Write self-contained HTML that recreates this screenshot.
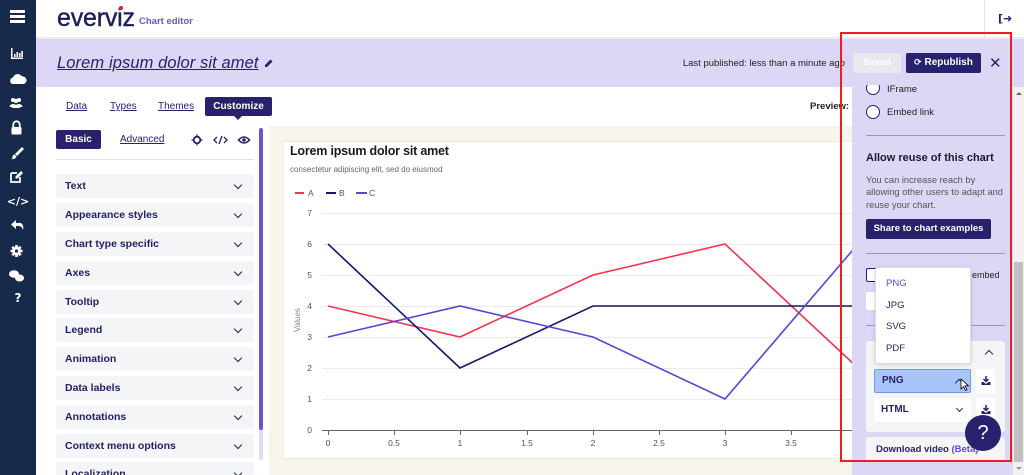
<!DOCTYPE html>
<html><head><meta charset="utf-8">
<style>
*{margin:0;padding:0;box-sizing:border-box}
html,body{width:1024px;height:475px;overflow:hidden}
body{position:relative;background:#fff;font-family:"Liberation Sans",Arial,sans-serif;}
.a{position:absolute}
.nav{left:0;top:0;width:36px;height:475px;background:#182a4b}
.ic{position:absolute;left:0;width:36px;text-align:center;color:#fff;font-size:12px;font-family:"DejaVu Sans",sans-serif;line-height:14px}
.band{left:36px;top:39px;width:988px;height:48px;background:#dcd7f4}
.tab{position:absolute;top:101px;font-size:10px;color:#28216e;text-decoration:underline}
.item{position:absolute;left:56px;width:198px;height:24px;background:#f4f5f6;border-radius:2px;font-size:10.5px;font-weight:bold;color:#221d66;padding-left:9px;line-height:24px}
.item::after{content:"";position:absolute;right:13px;top:8px;width:5px;height:5px;border-right:1.5px solid #221d66;border-bottom:1.5px solid #221d66;transform:rotate(45deg)}
.yl{position:absolute;font-size:8.5px;color:#555;width:12px;text-align:right}
.xl{position:absolute;top:438px;font-size:8.5px;color:#555;width:30px;text-align:center}
</style></head><body>
<div class="a" style="left:0;top:0;width:1024px;height:475px;overflow:hidden">

<!-- left nav -->
<div class="a nav"></div>
<div class="a" style="left:10px;top:10px;width:15px;height:2.5px;background:#fff;box-shadow:0 5px 0 #fff,0 10px 0 #fff"></div>
<svg class="a" style="left:0;top:0" width="36" height="320">
 <g fill="#fff" stroke="none">
  <path d="M11 48 v11 h12 v-1.5 h-10.5 v-9.5z"/><rect x="14" y="54" width="1.6" height="3"/><rect x="16.5" y="52" width="1.6" height="5"/><rect x="19" y="53" width="1.6" height="4"/><rect x="21.3" y="51" width="1.6" height="6"/>
  <path d="M12 84 a3.5 3.5 0 0 1 1-6.5 a5 5 0 0 1 9 -1 a3.8 3.8 0 0 1 1.5 7.5z"/>
  <circle cx="13" cy="100" r="2"/><circle cx="19" cy="100" r="2"/><circle cx="16" cy="101" r="2.2"/><path d="M9.5 107 a3.5 3 0 0 1 7 0z M15.5 107 a3.5 3 0 0 1 7 0z M12 108 a4 3.5 0 0 1 8 0z"/>
  <rect x="11.5" y="127" width="10" height="7.5" rx="1"/><path d="M13.3 127 v-2.5 a3.2 3.2 0 0 1 6.4 0 v2.5" stroke="#fff" stroke-width="1.8" fill="none"/>
  <path d="M22 147 l2 2 l-7 7 l-2 -2z"/><path d="M14.5 154.5 l2 2 q-1 3 -5 2.5 q1.5 -1 1 -2.5 q0.5 -2 2 -2z"/>
  <path d="M11 173 h6 M11 173 v9 h9 v-5" stroke="#fff" stroke-width="1.7" fill="none"/><path d="M21 171 l2 2 l-5.5 5.5 h-2 v-2z"/>
  <path d="M21 223 a6 6 0 0 1 2 7 a5 5 0 0 0 -4 -4 h-3 v3 l-5 -4.5 l5 -4.5 v3 h2 a4 4 0 0 1 3 0z"/>
  <circle cx="16.5" cy="251" r="4.2"/><g stroke="#fff" stroke-width="2.6"><line x1="16.5" y1="245" x2="16.5" y2="257"/><line x1="10.5" y1="251" x2="22.5" y2="251"/><line x1="12.3" y1="246.8" x2="20.7" y2="255.2"/><line x1="20.7" y1="246.8" x2="12.3" y2="255.2"/></g>
  <ellipse cx="14" cy="274" rx="5" ry="3.8"/><ellipse cx="19.5" cy="278" rx="4.5" ry="3.5"/>
 </g>
 <circle cx="16.5" cy="251" r="1.6" fill="#182a4b"/>
</svg>
<div class="ic" style="top:195px;font-weight:bold;font-size:11px">&lt;/&gt;</div>
<div class="ic" style="top:291px;font-weight:bold;font-size:12px">?</div>

<!-- header -->
<div class="a" style="left:57px;top:1px;font-size:25px;color:#1c1f5c;line-height:34px;letter-spacing:-0.2px;-webkit-text-stroke:0.4px #1c1f5c">everviz</div>
<div class="a" style="left:119px;top:6px;width:4px;height:4px;border-radius:50%;background:#d8213f"></div>
<div class="a" style="left:139px;top:16px;font-size:9.5px;font-weight:bold;color:#6554d6">Chart editor</div>
<div class="a" style="left:984px;top:0;width:1px;height:39px;background:#e6e6ec"></div>
<div class="a" style="left:998px;top:12px;font-size:11px;color:#28216e;font-family:'DejaVu Sans',sans-serif;font-weight:bold">[➜</div>
<div class="a" style="left:36px;top:37px;width:988px;height:2px;background:#ecebf2"></div>

<!-- band -->
<div class="a band"></div>
<div class="a" style="left:57px;top:54px;font-size:16.5px;font-style:italic;color:#28216e;text-decoration:underline;letter-spacing:0.1px">Lorem ipsum dolor sit amet</div>
<svg class="a" style="left:263px;top:57px" width="12" height="12"><path d="M2 8 l5.5 -5.5 l2 2 l-5.5 5.5 h-2z" fill="#28216e"/></svg>
<div class="a" style="left:640px;top:58px;width:205px;text-align:right;font-size:9.5px;color:#222">Last published: less than a minute ago</div>

<!-- tabs -->
<div class="tab" style="left:66px">Data</div>
<div class="tab" style="left:110px">Types</div>
<div class="tab" style="left:158px">Themes</div>
<div class="a" style="left:205px;top:97px;width:67px;height:19px;background:#28216e;border-radius:2px;color:#fff;font-size:10px;font-weight:bold;text-align:center;line-height:19px">Customize</div>
<div class="a" style="left:234px;top:116px;width:0;height:0;border-left:4px solid transparent;border-right:4px solid transparent;border-top:4px solid #28216e"></div>
<div class="a" style="left:810px;top:101px;font-size:9.5px;font-weight:bold;color:#222">Preview:</div>

<div class="a" style="left:56px;top:130px;width:45px;height:19px;background:#28216e;border-radius:2px;color:#fff;font-size:10px;font-weight:bold;text-align:center;line-height:19px">Basic</div>
<div class="a" style="left:120px;top:134px;font-size:10px;color:#28216e;text-decoration:underline">Advanced</div>
<svg class="a" style="left:190px;top:133px" width="62" height="14">
 <circle cx="7" cy="7" r="3.3" fill="none" stroke="#28216e" stroke-width="1.8"/><g stroke="#28216e" stroke-width="1.3"><line x1="7" y1="1.5" x2="7" y2="3.5"/><line x1="7" y1="10.5" x2="7" y2="12.5"/><line x1="1.5" y1="7" x2="3.5" y2="7"/><line x1="10.5" y1="7" x2="12.5" y2="7"/></g>
 <path d="M27 4 l-3 3 l3 3 M34 4 l3 3 l-3 3 M32 3 l-3 8" fill="none" stroke="#28216e" stroke-width="1.3"/>
 <path d="M48.5 7 q5.5 -6 11 0 q-5.5 6 -11 0z" fill="none" stroke="#28216e" stroke-width="1.6"/><circle cx="54" cy="7" r="1.8" fill="#28216e"/>
</svg>
<div class="a" style="left:56px;top:159px;width:198px;height:1px;background:#e1e1e6"></div>

<div class="item" style="top:174px">Text</div>
<div class="item" style="top:203px">Appearance styles</div>
<div class="item" style="top:232px">Chart type specific</div>
<div class="item" style="top:261px">Axes</div>
<div class="item" style="top:290px">Tooltip</div>
<div class="item" style="top:318px">Legend</div>
<div class="item" style="top:347px">Animation</div>
<div class="item" style="top:376px">Data labels</div>
<div class="item" style="top:405px">Annotations</div>
<div class="item" style="top:434px">Context menu options</div>
<div class="item" style="top:462px">Localization</div>

<div class="a" style="left:259px;top:128px;width:4px;height:332px;background:#e0dbf6;border-radius:2px"></div>
<div class="a" style="left:259px;top:128px;width:4px;height:302px;background:#6a55cf;border-radius:2px"></div>

<!-- chart area -->
<div class="a" style="left:269px;top:126px;width:600px;height:349px;background:#f8f5ec"></div>
<div class="a" style="left:283px;top:141px;width:590px;height:318px;background:#fff;border:1px solid #ebebeb"></div>
<div class="a" style="left:290px;top:144px;font-size:12.5px;font-weight:bold;color:#1a1a1a;letter-spacing:-0.2px">Lorem ipsum dolor sit amet</div>
<div class="a" style="left:290px;top:165px;font-size:8px;color:#666">consectetur adipiscing elit, sed do eiusmod</div>

<svg class="a" style="left:0;top:0" width="1024" height="475">
 <g stroke-width="2"><line x1="295" y1="193" x2="304" y2="193" stroke="#f5344d"/><line x1="326" y1="193" x2="336" y2="193" stroke="#16166a"/><line x1="356" y1="193" x2="367" y2="193" stroke="#5a44d4"/></g>
 <g font-family="Liberation Sans,Arial,sans-serif" font-size="8.5" fill="#555"><text x="308" y="196">A</text><text x="339" y="196">B</text><text x="369" y="196">C</text></g>
 <g stroke="#ebebeb" stroke-width="1"><line x1="322" y1="213.5" x2="870" y2="213.5"/><line x1="322" y1="244.5" x2="870" y2="244.5"/><line x1="322" y1="275.5" x2="870" y2="275.5"/><line x1="322" y1="306.5" x2="870" y2="306.5"/><line x1="322" y1="337.5" x2="870" y2="337.5"/><line x1="322" y1="368.5" x2="870" y2="368.5"/><line x1="322" y1="399.5" x2="870" y2="399.5"/></g>
 <line x1="322" y1="430.5" x2="870" y2="430.5" stroke="#666" stroke-width="1"/>
 <g stroke="#666" stroke-width="1"><line x1="328.5" y1="430" x2="328.5" y2="435"/><line x1="394.5" y1="430" x2="394.5" y2="435"/><line x1="460.5" y1="430" x2="460.5" y2="435"/><line x1="527.5" y1="430" x2="527.5" y2="435"/><line x1="593.5" y1="430" x2="593.5" y2="435"/><line x1="659.5" y1="430" x2="659.5" y2="435"/><line x1="725.5" y1="430" x2="725.5" y2="435"/><line x1="791.5" y1="430" x2="791.5" y2="435"/></g>
 <text x="300" y="320" font-family="Liberation Sans,Arial,sans-serif" font-size="8" fill="#888" transform="rotate(-90 300 320)" text-anchor="middle">Values</text>
 <g fill="none" stroke-width="1.6" stroke-linejoin="miter">
  <polyline points="328,306 460,337 593,275 725,244 858,368" stroke="#f5344d"/>
  <polyline points="328,244 460,368 593,306 725,306 858,306" stroke="#16166a"/>
  <polyline points="328,337 460,306 593,337 725,399 858,244" stroke="#5a44d4"/>
 </g>
</svg>
<div class="yl" style="left:300px;top:208px">7</div>
<div class="yl" style="left:300px;top:239px">6</div>
<div class="yl" style="left:300px;top:270px">5</div>
<div class="yl" style="left:300px;top:301px">4</div>
<div class="yl" style="left:300px;top:332px">3</div>
<div class="yl" style="left:300px;top:363px">2</div>
<div class="yl" style="left:300px;top:394px">1</div>
<div class="yl" style="left:300px;top:425px">0</div>
<div class="xl" style="left:313px">0</div>
<div class="xl" style="left:379px">0.5</div>
<div class="xl" style="left:445px">1</div>
<div class="xl" style="left:512px">1.5</div>
<div class="xl" style="left:578px">2</div>
<div class="xl" style="left:644px">2.5</div>
<div class="xl" style="left:710px">3</div>
<div class="xl" style="left:776px">3.5</div>

<!-- right panel -->
<div class="a" style="left:852px;top:39px;width:161px;height:436px;background:#dcd7f4"></div>
<div class="a" style="left:1013px;top:87px;width:11px;height:388px;background:#f1f1f1"></div>
<div class="a" style="left:1014px;top:262px;width:9px;height:200px;background:#c1c1c1"></div>
<div class="a" style="left:1016px;top:92px;width:0;height:0;border-left:3px solid transparent;border-right:3px solid transparent;border-bottom:3px solid #666"></div>
<div class="a" style="left:1016px;top:467px;width:0;height:0;border-left:3px solid transparent;border-right:3px solid transparent;border-top:3px solid #999"></div>

<div class="a" style="left:853px;top:53px;width:48px;height:20px;background:#e9e8ee;border-radius:2px;color:#fff;font-size:9.5px;font-weight:bold;text-align:center;line-height:20px">Saved</div>
<div class="a" style="left:906px;top:53px;width:75px;height:20px;background:#28216e;border-radius:2px;color:#fff;font-size:10px;font-weight:bold;text-align:center;line-height:20px"><span style="font-family:'DejaVu Sans',sans-serif;font-size:9px">⟳</span> Republish</div>
<div class="a" style="left:989px;top:54px;font-size:15px;color:#28216e;font-family:'DejaVu Sans',sans-serif">✕</div>

<div class="a" style="left:852px;top:85px;width:161px;height:390px;overflow:hidden">
 <div class="a" style="left:14px;top:-4px;width:14px;height:14px;border-radius:50%;border:1.5px solid #28216e;background:#fff"></div>
 <div class="a" style="left:35px;top:-1px;font-size:9.5px;color:#222">IFrame</div>
 <div class="a" style="left:14px;top:20px;width:14px;height:14px;border-radius:50%;border:1.5px solid #28216e;background:#fff"></div>
 <div class="a" style="left:35px;top:22px;font-size:9.5px;color:#222">Embed link</div>
 <div class="a" style="left:14px;top:50px;width:139px;height:1px;background:#9a8fd9"></div>
 <div class="a" style="left:14px;top:67px;font-size:11px;font-weight:bold;color:#1a1a2e">Allow reuse of this chart</div>
 <div class="a" style="left:14px;top:89px;width:142px;font-size:9.3px;line-height:12.3px;color:#555">You can increase reach by allowing other users to adapt and reuse your chart.</div>
 <div class="a" style="left:14px;top:134px;width:125px;height:20px;background:#28216e;border-radius:2px;color:#fff;font-size:9.5px;font-weight:bold;text-align:center;line-height:20px">Share to chart examples</div>
 <div class="a" style="left:14px;top:168px;width:139px;height:1px;background:#9a8fd9"></div>
 <div class="a" style="left:14px;top:183px;width:14px;height:14px;border:1.5px solid #28216e;border-radius:2px;background:#fff"></div>
 <div class="a" style="left:120px;top:185px;font-size:9px;color:#222">embed</div>
 <div class="a" style="left:14px;top:207px;width:100px;height:18px;background:#fff;border-radius:2px"></div>
 <div class="a" style="left:14px;top:240px;width:139px;height:1px;background:#9a8fd9"></div>
 <div class="a" style="left:14px;top:256px;width:139px;height:91px;background:#f4f5f6;border-radius:3px"></div>
 <div class="a" style="left:134px;top:266px;width:6px;height:6px;border-left:1.5px solid #28216e;border-top:1.5px solid #28216e;transform:rotate(45deg)"></div>
 <div class="a" style="left:22px;top:284px;width:97px;height:24px;background:#a9c4f6;border:1px solid #7b9ae6;border-radius:2px;font-size:10px;font-weight:bold;color:#28216e;line-height:22px;padding-left:7px">PNG</div>
 <div class="a" style="left:104px;top:295px;width:6px;height:6px;border-left:1.5px solid #28216e;border-top:1.5px solid #28216e;transform:rotate(45deg)"></div>
 <svg class="a" style="left:108px;top:293px" width="10" height="14"><path d="M1 1 v10 l2.5-2.5 l2 4 l1.5-.7 l-2-4 h3.5z" fill="#fff" stroke="#000" stroke-width="0.8"/></svg>
 <div class="a" style="left:124px;top:284px;width:19px;height:24px;background:#fff;border-radius:2px"></div>
 <div class="a" style="left:22px;top:313px;width:97px;height:24px;background:#fff;border-radius:2px;font-size:10px;font-weight:bold;color:#28216e;line-height:24px;padding-left:7px">HTML</div>
 <div class="a" style="left:105px;top:321px;width:5px;height:5px;border-right:1.5px solid #28216e;border-bottom:1.5px solid #28216e;transform:rotate(45deg)"></div>
 <div class="a" style="left:124px;top:313px;width:19px;height:24px;background:#fff;border-radius:2px"></div>
 <svg class="a" style="left:128px;top:289px" width="12" height="44"><g fill="#28216e"><path d="M6 2 v5 M3.5 5 l2.5 2.5 l2.5 -2.5" stroke="#28216e" stroke-width="1.5" fill="none"/><path d="M1.5 8 h2 l2.5 2 l2.5 -2 h2 v3 h-9z"/><path d="M6 31 v5 M3.5 34 l2.5 2.5 l2.5 -2.5" stroke="#28216e" stroke-width="1.5" fill="none"/><path d="M1.5 37 h2 l2.5 2 l2.5 -2 h2 v3 h-9z"/></g></svg>
 <div class="a" style="left:14px;top:352px;width:139px;height:25px;background:#f4f5f6;border-radius:3px;font-size:9.5px;font-weight:bold;color:#28216e;line-height:25px;padding-left:10px">Download video <span style="color:#5a4ad6">(Beta)</span></div>
 <!-- dropdown -->
 <div class="a" style="left:23px;top:182px;width:96px;height:97px;background:#fff;border:1px solid #ddd;border-radius:3px;box-shadow:0 1px 4px rgba(0,0,0,0.15)"></div>
 <div class="a" style="left:34px;top:193px;font-size:9.5px;color:#5a4ad6">PNG</div>
 <div class="a" style="left:34px;top:215px;font-size:9.5px;color:#28216e">JPG</div>
 <div class="a" style="left:34px;top:236px;font-size:9.5px;color:#28216e">SVG</div>
 <div class="a" style="left:34px;top:258px;font-size:9.5px;color:#28216e">PDF</div>
</div>

<div class="a" style="left:965px;top:415px;width:36px;height:36px;border-radius:50%;background:#28216e;color:#fff;font-size:20px;text-align:center;line-height:36px">?</div>

<!-- red annotation box -->
<div class="a" style="left:840px;top:32px;width:172px;height:430px;border:2px solid #ee1c25"></div>

</div>
</body></html>
